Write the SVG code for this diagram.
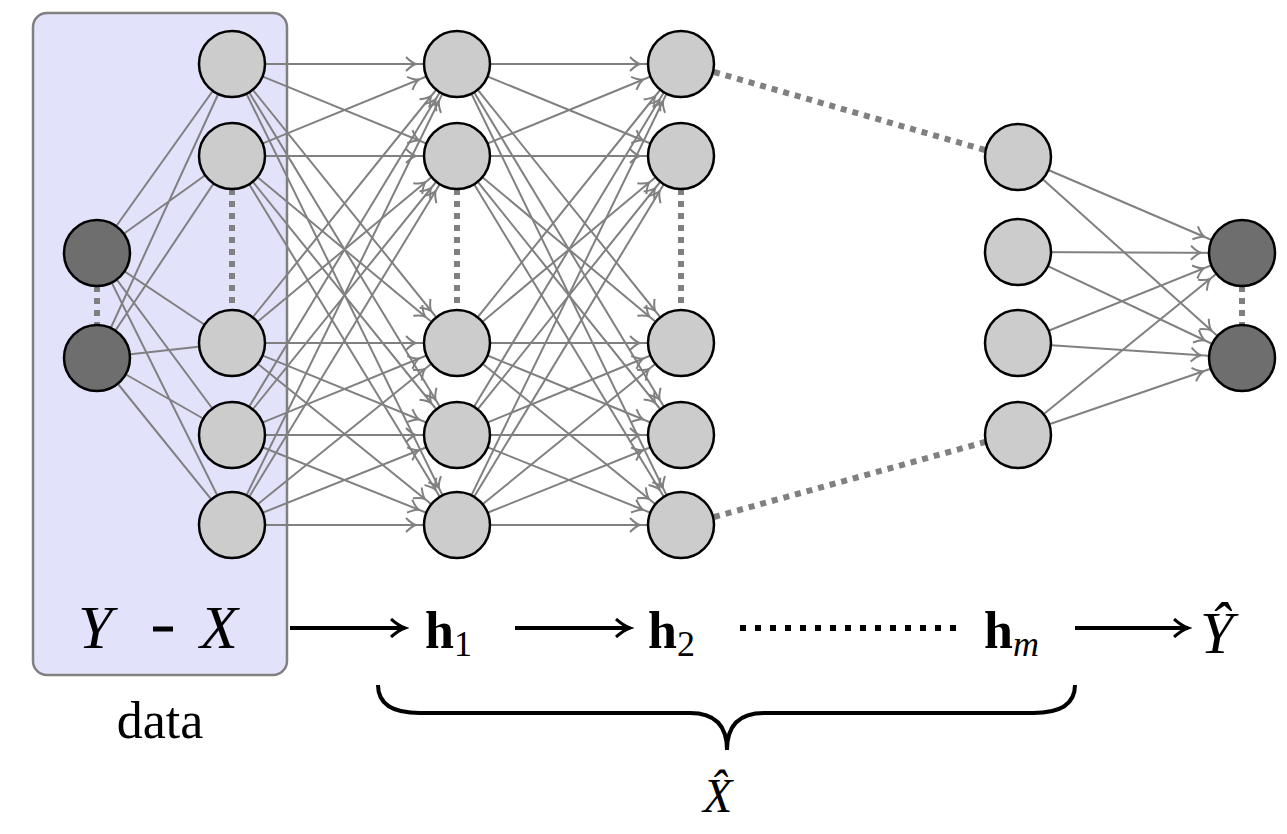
<svg xmlns="http://www.w3.org/2000/svg" width="1287" height="834" viewBox="0 0 1287 834">
<style>
.e{stroke:#808080;stroke-width:2;fill:none}
.a{stroke:#808080;stroke-width:2;fill:none;marker-end:url(#ah)}
.d{stroke:#808080;stroke-width:6;stroke-dasharray:6 6;fill:none}
.n{fill:#cccccc;stroke:#000;stroke-width:2.5}
.k{fill:#6e6e6e;stroke:#000;stroke-width:2.5}
.t{font-family:"Liberation Serif",serif;fill:#000}
</style>
<defs>
<marker id="ah" markerUnits="userSpaceOnUse" viewBox="-15 -10 60 20" markerWidth="60" markerHeight="20" refX="41" refY="0" orient="auto" overflow="visible">
<path d="M-10,-7 Q-4,-1 0,0 Q-4,1 -10,7" stroke="#808080" stroke-width="2" fill="none"/>
</marker>
<marker id="bk" markerUnits="userSpaceOnUse" viewBox="-16 -10 20 20" markerWidth="20" markerHeight="20" refX="0" refY="0" orient="auto">
<path d="M-14,-9 Q-6,-2 0,0 Q-6,2 -14,9" stroke="#000" stroke-width="3" fill="none"/>
</marker>
</defs>
<rect x="33" y="13" width="254" height="662" rx="14" fill="#e2e2fb" stroke="#808080" stroke-width="2.5"/>
<g id="connectors">
<path class="e" d="M97,253L232,64M97,253L232,156M97,253L232,343M97,253L232,435M97,253L232,525M97,358L232,64M97,358L232,156M97,358L232,343M97,358L232,435M97,358L232,525"/>
<path class="a" d="M232,64L457,64"/><path class="a" d="M232,64L457,156"/><path class="a" d="M232,64L457,343"/><path class="a" d="M232,64L457,435"/><path class="a" d="M232,64L457,525"/>
<path class="a" d="M232,156L457,64"/><path class="a" d="M232,156L457,156"/><path class="a" d="M232,156L457,343"/><path class="a" d="M232,156L457,435"/><path class="a" d="M232,156L457,525"/>
<path class="a" d="M232,343L457,64"/><path class="a" d="M232,343L457,156"/><path class="a" d="M232,343L457,343"/><path class="a" d="M232,343L457,435"/><path class="a" d="M232,343L457,525"/>
<path class="a" d="M232,435L457,64"/><path class="a" d="M232,435L457,156"/><path class="a" d="M232,435L457,343"/><path class="a" d="M232,435L457,435"/><path class="a" d="M232,435L457,525"/>
<path class="a" d="M232,525L457,64"/><path class="a" d="M232,525L457,156"/><path class="a" d="M232,525L457,343"/><path class="a" d="M232,525L457,435"/><path class="a" d="M232,525L457,525"/>
<path class="a" d="M457,64L681,64"/><path class="a" d="M457,64L681,156"/><path class="a" d="M457,64L681,343"/><path class="a" d="M457,64L681,435"/><path class="a" d="M457,64L681,525"/>
<path class="a" d="M457,156L681,64"/><path class="a" d="M457,156L681,156"/><path class="a" d="M457,156L681,343"/><path class="a" d="M457,156L681,435"/><path class="a" d="M457,156L681,525"/>
<path class="a" d="M457,343L681,64"/><path class="a" d="M457,343L681,156"/><path class="a" d="M457,343L681,343"/><path class="a" d="M457,343L681,435"/><path class="a" d="M457,343L681,525"/>
<path class="a" d="M457,435L681,64"/><path class="a" d="M457,435L681,156"/><path class="a" d="M457,435L681,343"/><path class="a" d="M457,435L681,435"/><path class="a" d="M457,435L681,525"/>
<path class="a" d="M457,525L681,64"/><path class="a" d="M457,525L681,156"/><path class="a" d="M457,525L681,343"/><path class="a" d="M457,525L681,435"/><path class="a" d="M457,525L681,525"/>
<path class="a" d="M1018,157L1242,253"/><path class="a" d="M1018,157L1242,358"/>
<path class="a" d="M1018,252L1242,253"/><path class="a" d="M1018,252L1242,358"/>
<path class="a" d="M1018,343L1242,253"/><path class="a" d="M1018,343L1242,358"/>
<path class="a" d="M1018,435L1242,253"/><path class="a" d="M1018,435L1242,358"/>
<path class="d" d="M97,286L97,325M232,189L232,310M457,189L457,310M681,189L681,310M1242,286L1242,325"/>
<path class="d" d="M714,72L985,150M714,517L985,442"/>
</g>
<g id="nodes">
<circle class="k" cx="97" cy="253" r="33"/><circle class="k" cx="97" cy="358" r="33"/>
<circle class="n" cx="232" cy="64" r="33"/><circle class="n" cx="232" cy="156" r="33"/><circle class="n" cx="232" cy="343" r="33"/><circle class="n" cx="232" cy="435" r="33"/><circle class="n" cx="232" cy="525" r="33"/>
<circle class="n" cx="457" cy="64" r="33"/><circle class="n" cx="457" cy="156" r="33"/><circle class="n" cx="457" cy="343" r="33"/><circle class="n" cx="457" cy="435" r="33"/><circle class="n" cx="457" cy="525" r="33"/>
<circle class="n" cx="681" cy="64" r="33"/><circle class="n" cx="681" cy="156" r="33"/><circle class="n" cx="681" cy="343" r="33"/><circle class="n" cx="681" cy="435" r="33"/><circle class="n" cx="681" cy="525" r="33"/>
<circle class="n" cx="1018" cy="157" r="33"/><circle class="n" cx="1018" cy="252" r="33"/><circle class="n" cx="1018" cy="343" r="33"/><circle class="n" cx="1018" cy="435" r="33"/>
<circle class="k" cx="1242" cy="253" r="33"/><circle class="k" cx="1242" cy="358" r="33"/>
</g>
<g id="labels">
<text class="t" x="78" y="648" font-size="62" font-style="italic">Y</text>
<path d="M153,629H173" stroke="#000" stroke-width="5"/>
<text class="t" x="200" y="648" font-size="62" font-style="italic">X</text>
<text class="t" x="425" y="648" font-size="52" font-weight="bold">h<tspan font-size="36" font-weight="normal" dy="8">1</tspan></text>
<text class="t" x="648" y="648" font-size="52" font-weight="bold">h<tspan font-size="36" font-weight="normal" dy="8">2</tspan></text>
<text class="t" x="984" y="648" font-size="52" font-weight="bold">h<tspan font-size="36" font-weight="normal" font-style="italic" dy="8">m</tspan></text>
<text class="t" x="1200" y="653" font-size="60" font-style="italic">Ŷ</text>
<text class="t" x="160" y="738" font-size="52" text-anchor="middle">data</text>
<text class="t" x="703" y="812" font-size="48" font-style="italic">X̂</text>
</g>
<g id="arrows">
<path d="M290,628H405" stroke="#000" stroke-width="4" fill="none" marker-end="url(#bk)"/>
<path d="M515,628H630" stroke="#000" stroke-width="4" fill="none" marker-end="url(#bk)"/>
<path d="M1075,628H1188" stroke="#000" stroke-width="4" fill="none" marker-end="url(#bk)"/>
<path d="M740,628H958" stroke="#000" stroke-width="6" stroke-dasharray="6 9" fill="none"/>
<path d="M378,685 Q378,713 420,713 H690 Q727,713 727,750 Q727,713 764,713 H1033 Q1075,713 1075,685" stroke="#000" stroke-width="4" fill="none"/>
</g>
</svg>
